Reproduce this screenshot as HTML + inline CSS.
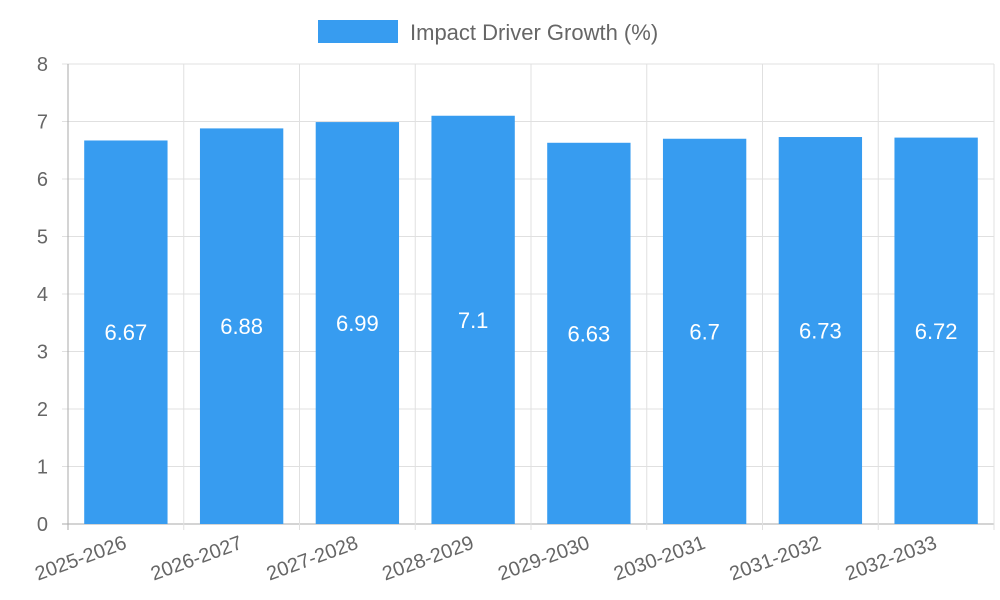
<!DOCTYPE html>
<html><head><meta charset="utf-8"><style>
body{margin:0;background:#fff;font-family:"Liberation Sans",sans-serif}
svg{display:block}
</style></head><body>
<svg id="chart" width="1000" height="600">
<g id="legend">
<rect x="318" y="20" width="80" height="23" fill="#379cf0"></rect>
<text x="410" y="40" font-size="22" fill="#666">Impact Driver Growth (%)</text>
</g>
<g id="grid"></g><g id="bars"></g><g id="axes"></g>
</svg>
<script>
const categories=["2025-2026","2026-2027","2027-2028","2028-2029","2029-2030","2030-2031","2031-2032","2032-2033"];
const values=[6.67,6.88,6.99,7.1,6.63,6.7,6.73,6.72];
const valueLabels=["6.67","6.88","6.99","7.1","6.63","6.7","6.73","6.72"];
const yTicks=[0,1,2,3,4,5,6,7,8];
const NS="http://www.w3.org/2000/svg";
const L=68,R=994,T=64,B=524,yMax=8;
const y=v=>B-(v/yMax)*(B-T);
const band=(R-L)/categories.length;
const x=i=>L+i*band;
function mk(tag,attrs,parent,text){const e=document.createElementNS(NS,tag);for(const k in attrs)e.setAttribute(k,attrs[k]);if(text!==undefined)e.textContent=text;parent.appendChild(e);return e;}
const grid=document.getElementById('grid'),bars=document.getElementById('bars'),axes=document.getElementById('axes');
yTicks.forEach(t=>{
const g=mk('line',{x1:L-6,x2:R,y1:y(t),y2:y(t),stroke:t===0?'#aaa':'#e0e0e0','stroke-width':1},grid);


const lb=mk('text',{x:L-20,y:y(t)+7,'font-size':20,fill:'#666','text-anchor':'end'},axes,String(t));


});
for(let i=0;i<=categories.length;i++){
const g=mk('line',{x1:x(i),x2:x(i),y1:T,y2:B+6,stroke:i===0?'#aaa':'#e0e0e0','stroke-width':1},grid);


}
categories.forEach((c,i)=>{
const bw=band*0.72,cx=x(i)+band/2;
const r=mk('rect',{x:cx-bw/2,y:y(values[i]),width:bw,height:B-y(values[i]),fill:'#379cf0'},bars);


const t=mk('text',{x:cx,y:(y(values[i])+B)/2+8,'font-size':22,fill:'#fff','text-anchor':'middle'},bars,valueLabels[i]);


const lx=cx+2,ly=B+24;
const xl=mk('text',{x:lx,y:ly,'font-size':20,fill:'#666','text-anchor':'end',transform:`rotate(-20 ${lx} ${ly})`},axes,c);


});
</script>
</body></html>
